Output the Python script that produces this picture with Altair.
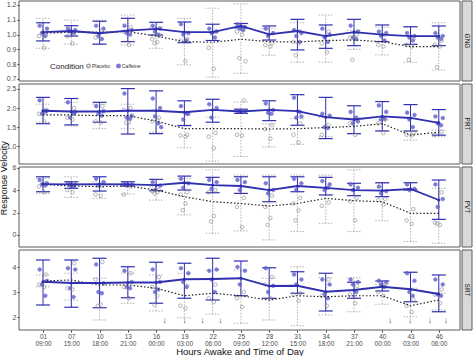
import json
import pandas as pd
import altair as alt

tests = ["GNG", "PRT", "PVT", "SRT"]
hours = ["01", "07", "10", "13", "16", "19", "22", "25", "28", "31", "34", "37", "40", "43", "46"]
clock = ["09:00", "15:00", "18:00", "21:00", "00:00", "03:00", "06:00", "09:00",
         "12:00", "15:00", "18:00", "21:00", "00:00", "03:00", "06:00"]

# ---------------- GNG ----------------
gng_caf_mean = [1.016, 1.024, 1.009, 1.026, 1.038, 1.016, 1.016, 1.058, 1.002, 1.024, 0.99, 1.016, 1.0, 0.99, 0.99]
gng_caf_lo = [0.957, 0.99, 0.935, 0.952, 0.997, 0.945, 0.96, 1.045, 0.963, 0.896, 0.907, 0.925, 0.952, 0.934, 0.925]
gng_caf_hi = [1.08, 1.06, 1.09, 1.11, 1.083, 1.085, 1.07, 1.075, 1.058, 1.103, 1.065, 1.103, 1.065, 1.053, 1.058]
gng_pla_mean = [1.009, 1.016, 1.016, 1.02, 0.99, 0.952, 0.948, 0.968, 0.952, 0.95, 0.96, 0.963, 0.952, 0.918, 0.918]
gng_pla_lo = [0.907, 0.935, 0.935, 0.93, 0.907, 0.795, 0.712, 0.738, 0.86, 0.813, 0.813, 0.9, 0.862, 0.813, 0.76]
gng_pla_hi = [1.11, 1.097, 1.097, 1.132, 1.05, 1.11, 1.178, 1.207, 1.04, 1.08, 1.132, 1.03, 1.05, 1.05, 1.08]
gng_caf_pts = [[1.06, 1.04, 1.01, 0.99], [1.04, 1.03, 1.02, 1.01], [1.06, 1.04, 0.99, 0.97], [1.06, 1.03, 1.01, 1.0],
               [1.06, 1.04, 1.02, 1.0], [1.07, 1.01, 1.0, 0.96], [1.04, 1.02, 1.01, 0.98], [1.07, 1.05, 1.04, 1.03],
               [1.04, 1.01, 0.99], [1.03, 1.01, 0.99, 0.95], [1.04, 1.0, 0.98, 0.95], [1.06, 1.02, 0.98, 0.97],
               [1.02, 1.01, 0.99, 0.96], [1.01, 0.99, 0.98, 0.96], [1.01, 0.99, 0.98, 0.97]]
gng_pla_pts = [[1.0, 0.99, 0.91], [1.0, 0.99, 0.94], [1.03, 0.98, 0.97], [1.05, 1.02, 0.93],
               [0.99, 0.97, 0.95, 0.94], [0.97, 0.96, 0.82], [1.02, 0.91, 0.77], [1.05, 1.02, 1.0, 0.84, 0.82],
               [0.94, 0.93, 0.92], [1.02, 0.95, 0.94, 0.86], [1.02, 0.94, 0.88], [1.0, 0.98, 0.97, 0.83],
               [1.0, 0.93, 0.92], [0.97, 0.93, 0.92, 0.83], [0.96, 0.93, 0.92, 0.78]]

# ---------------- PRT ----------------
prt_caf_mean = [1.93, 1.91, 1.91, 1.93, 1.93, 1.89, 1.95, 1.91, 1.95, 1.92, 1.76, 1.70, 1.78, 1.74, 1.61]
prt_caf_lo = [1.59, 1.56, 1.63, 1.32, 1.33, 1.54, 1.63, 1.86, 1.67, 1.55, 1.20, 1.33, 1.40, 1.40, 1.29]
prt_caf_hi = [2.28, 2.25, 2.15, 2.51, 2.45, 2.19, 2.23, 1.97, 2.19, 2.35, 2.28, 2.06, 2.17, 2.09, 1.96]
prt_pla_mean = [1.82, 1.82, 1.80, 1.80, 1.66, 1.46, 1.46, 1.46, 1.45, 1.46, 1.49, 1.52, 1.59, 1.29, 1.37]
prt_pla_lo = [1.63, 1.53, 1.46, 1.46, 1.37, 0.96, 0.61, 0.73, 0.98, 1.05, 1.25, 1.33, 1.40, 1.16, 1.25]
prt_pla_hi = [2.10, 2.15, 2.10, 2.10, 1.95, 1.56, 1.76, 2.16, 1.59, 1.72, 1.75, 1.74, 1.69, 1.38, 1.42]
prt_caf_pts = [[2.2, 1.93, 1.85, 1.9], [2.15, 1.9, 1.75, 1.85], [2.05, 1.92, 1.85, 1.8], [2.38, 1.8, 1.75, 1.72],
               [2.25, 2.0, 1.78, 1.6, 1.5], [2.05, 1.85, 1.7, 1.85], [2.1, 2.0, 1.75], [1.93, 1.9, 1.91],
               [2.12, 1.95, 1.88, 1.85], [2.27, 1.78, 1.75, 1.9], [1.85, 1.8, 1.5, 1.48], [1.9, 1.65, 1.6, 1.75],
               [2.07, 1.9, 1.7, 1.72], [1.88, 1.82, 1.7, 1.5], [1.78, 1.74, 1.6, 1.55]]
prt_pla_pts = [[1.95, 1.85, 1.65], [2.0, 1.75, 1.7], [2.05, 1.65, 1.62], [2.0, 1.95, 1.63, 1.62],
               [1.75, 1.65, 1.68], [1.3, 1.28, 1.25], [1.35, 1.25, 0.95], [2.2, 1.3, 1.28],
               [1.55, 1.45, 1.2], [1.6, 1.3, 1.1], [1.55, 1.3], [1.7, 1.6, 1.3],
               [1.7, 1.6, 1.35], [1.35, 1.3, 1.28], [1.38, 1.3]]

# ---------------- PVT ----------------
pvt_caf_mean = [4.53, 4.5, 4.53, 4.5, 4.44, 4.65, 4.44, 4.36, 4.0, 4.36, 4.2, 4.0, 3.94, 4.09, 3.11]
pvt_caf_lo = [3.85, 4.15, 3.91, 4.36, 3.94, 4.0, 3.76, 3.7, 2.96, 3.85, 3.56, 3.5, 3.41, 4.0, 1.39]
pvt_caf_hi = [5.18, 4.74, 5.18, 4.74, 4.95, 5.24, 5.13, 5.18, 5.18, 5.18, 5.13, 4.6, 4.65, 4.65, 4.89]
pvt_pla_mean = [4.5, 4.36, 4.3, 4.36, 4.0, 3.4, 2.96, 2.8, 2.58, 2.8, 3.26, 3.05, 2.96, 1.93, 1.93]
pvt_pla_lo = [3.7, 3.35, 3.26, 3.64, 3.1, 1.78, 0.15, 0.36, -0.44, 0.3, 1.04, 0.3, 1.27, -0.59, -0.74]
pvt_pla_hi = [5.04, 5.18, 4.74, 4.6, 4.3, 5.04, 5.8, 5.33, 5.33, 5.33, 5.33, 5.8, 4.6, 4.15, 4.15]
pvt_caf_pts = [[4.9, 4.6, 4.5, 4.4], [4.6, 4.5, 4.4, 4.3], [5.0, 4.7, 4.4], [4.6, 4.5, 4.4],
               [4.7, 4.4, 4.0], [5.0, 4.6, 4.2], [4.9, 4.7, 4.1], [4.9, 4.7, 4.0],
               [4.6, 4.0, 3.7], [5.0, 4.6, 4.0], [4.8, 4.5, 4.0, 4.2], [4.5, 4.2, 4.0],
               [4.3, 3.9, 3.7], [4.5, 4.1, 4.0], [4.5, 3.2, 2.5]]
pvt_pla_pts = [[4.6, 4.3, 3.8], [4.6, 4.0, 3.8], [4.4, 3.6, 3.5], [4.3, 3.6],
               [4.0, 3.9, 3.8, 3.7], [3.8, 3.6, 2.8, 2.2], [4.0, 3.8, 1.7, 1.2], [3.3, 2.5, 0.7],
               [3.5, 2.5, 1.5, 0.9], [3.3, 2.8, 2.2, 1.3], [2.9, 2.6], [3.3, 3.0, 1.3],
               [3.2, 3.1, 2.7], [2.3, 1.3, 1.0], [3.8, 1.1, 0.9, 1.0]]

# ---------------- SRT ----------------
srt_caf_mean = [3.41, 3.36, 3.36, 3.38, 3.38, 3.51, 3.52, 3.55, 3.24, 3.25, 3.01, 3.08, 3.21, 3.11, 2.92]
srt_caf_lo = [2.48, 2.39, 2.37, 2.77, 2.55, 2.75, 2.68, 2.85, 2.75, 2.95, 2.24, 2.75, 3.04, 2.61, 2.21]
srt_caf_hi = [4.28, 4.28, 4.35, 4.01, 4.19, 4.15, 4.35, 4.24, 3.97, 3.81, 3.75, 3.39, 3.44, 3.79, 3.68]
srt_pla_mean = [3.44, 3.48, 3.28, 3.28, 3.15, 2.85, 2.95, 2.85, 2.68, 2.85, 2.81, 2.85, 2.85, 2.45, 2.68]
srt_pla_lo = [3.21, 2.68, 1.88, 2.55, 2.24, 1.97, 2.11, 1.75, 1.88, 1.65, 2.08, 2.21, 2.51, 2.01, 2.28]
srt_pla_hi = [3.68, 3.75, 3.55, 3.75, 3.68, 3.75, 3.88, 3.88, 3.55, 4.01, 3.57, 3.57, 3.31, 3.15, 2.95]
srt_caf_pts = [[3.9, 3.45, 3.3, 2.85], [3.95, 3.9, 3.15, 2.8], [4.1, 3.35, 3.0, 2.95], [3.85, 3.4, 3.2, 3.15],
               [3.9, 3.4, 3.0, 3.1], [3.95, 3.75, 3.4, 3.2], [3.85, 3.9, 3.5, 3.0], [4.0, 3.85, 3.3],
               [3.95, 3.25, 3.0], [3.7, 3.5, 3.3], [3.5, 3.3, 2.9, 2.75], [3.5, 3.4, 3.3, 3.0],
               [3.45, 3.4, 3.3, 3.2], [3.75, 3.45, 3.0, 2.85], [3.5, 3.3, 2.9, 2.85]]
srt_pla_pts = [[3.7, 3.3, 3.2], [4.15, 3.15, 3.1], [4.2, 3.5, 2.5, 2.45], [3.75, 3.2, 2.75],
               [3.6, 3.2, 2.85, 2.5], [3.25, 2.45, 2.35], [3.3, 2.75, 2.6], [3.0, 2.75, 2.4],
               [3.6, 3.3, 2.75], [2.95, 2.9, 2.65], [3.5, 2.85, 2.45], [3.25, 2.9, 2.55],
               [3.3, 3.0, 2.85], [2.7, 2.45, 2.2], [3.1, 2.9, 2.55]]

# dosing markers (arrows) on the time axis, in time-point index units
arrow_x = [4.3, 5.0, 5.63, 6.27, 12.27, 12.98, 13.68, 14.25]

# ---------------- style constants ----------------
BLUE = "#3030b0"
PT_BLUE = "#5c5cca"
GREY = "#a8a8a8"
BORDER = "#5a5a5a"
JIT_CAF = [-0.12, 0.14, -0.04, 0.08, 0.18]
JIT_PLA = [0.1, -0.14, 0.04, -0.06, 0.16]

raw = {
    "GNG": (gng_caf_mean, gng_caf_lo, gng_caf_hi, gng_pla_mean, gng_pla_lo, gng_pla_hi, gng_caf_pts, gng_pla_pts),
    "PRT": (prt_caf_mean, prt_caf_lo, prt_caf_hi, prt_pla_mean, prt_pla_lo, prt_pla_hi, prt_caf_pts, prt_pla_pts),
    "PVT": (pvt_caf_mean, pvt_caf_lo, pvt_caf_hi, pvt_pla_mean, pvt_pla_lo, pvt_pla_hi, pvt_caf_pts, pvt_pla_pts),
    "SRT": (srt_caf_mean, srt_caf_lo, srt_caf_hi, srt_pla_mean, srt_pla_lo, srt_pla_hi, srt_caf_pts, srt_pla_pts),
}

mrows, prows = [], []
for t, (cm, cl, ch, pm, pl, ph, cp, pp) in raw.items():
    for i in range(15):
        mrows.append(dict(test=t, cond="Caffeine", i=i, mean=cm[i], lo=cl[i], hi=ch[i]))
        mrows.append(dict(test=t, cond="Placebo", i=i, mean=pm[i], lo=pl[i], hi=ph[i]))
        for k, v in enumerate(cp[i]):
            prows.append(dict(test=t, cond="Caffeine", i=i, jx=i + JIT_CAF[k], v=v))
        for k, v in enumerate(pp[i]):
            prows.append(dict(test=t, cond="Placebo", i=i, jx=i + JIT_PLA[k], v=v))
means = pd.DataFrame(mrows)
pts = pd.DataFrame(prows)

label_pairs = [[h, c] for h, c in zip(hours, clock)]
XDOM = [-0.85, 14.75]

settings = {
    "GNG": dict(domain=[0.686, 1.227], ticks=[0.7, 0.8, 0.9, 1.0, 1.1, 1.2], fmt=".1f"),
    "PRT": dict(domain=[0.535, 2.63], ticks=[1.0, 1.5, 2.0, 2.5], fmt=".1f"),
    "PVT": dict(domain=[-1.07, 6.05], ticks=[0, 2, 4, 6], fmt="d"),
    "SRT": dict(domain=[1.48, 4.68], ticks=[2, 3, 4], fmt="d"),
}

PW, PH = 441, 80
SW = 10  # strip width
GAP = 2


def panel(test, show_x, show_legend):
    s = settings[test]
    m = means[means.test == test]
    p = pts[pts.test == test]
    xaxis = alt.Axis(values=list(range(15)), labelExpr=f"{json.dumps(label_pairs)}[datum.value]",
                     title="Hours Awake and Time of Day", labelOverlap=False, labelFlush=False,
                     labelFontSize=6.5, labelLineHeight=7, titleFontSize=9.5, titleFontWeight="normal",
                     titleColor="#111", titlePadding=0, domain=False) if show_x else None
    xsc = alt.Scale(domain=XDOM, range=[0, PW], nice=False, zero=False)
    X = alt.X("i:Q", scale=xsc, axis=xaxis)
    ysc = alt.Scale(domain=s["domain"], nice=False, zero=False)
    yax = alt.Axis(values=s["ticks"], format=s["fmt"], title=None, domain=False)

    mp = alt.Chart(m).transform_filter(alt.datum.cond == "Placebo")
    mc = alt.Chart(m).transform_filter(alt.datum.cond == "Caffeine")

    pla_bar = mp.mark_rule(color=GREY, strokeDash=[1.5, 1.5], strokeWidth=0.9).encode(
        x=X, y=alt.Y("lo:Q", scale=ysc, axis=yax), y2="hi:Q")
    pla_cap = mp.transform_fold(["lo", "hi"], as_=["end", "yv"]).mark_rule(
        color=GREY, strokeDash=[1.5, 1.5], strokeWidth=0.9, xOffset=-7, x2Offset=7).encode(
        x=X, x2="i:Q", y=alt.Y("yv:Q", scale=ysc, axis=yax))
    caf_bar = mc.mark_rule(color=BLUE, strokeWidth=1).encode(
        x=X, y=alt.Y("lo:Q", scale=ysc, axis=yax), y2="hi:Q")
    caf_cap = mc.transform_fold(["lo", "hi"], as_=["end", "yv"]).mark_rule(
        color=BLUE, strokeWidth=1.2, xOffset=-7, x2Offset=7).encode(
        x=X, x2="i:Q", y=alt.Y("yv:Q", scale=ysc, axis=yax))

    legend = alt.Legend(title="Condition", orient="none", legendX=31, legendY=62, direction="horizontal",
                        titleOrient="left", titleFontSize=8, titleFontWeight="normal", titleColor="#222",
                        labelFontSize=5, labelColor="#333", symbolSize=12, columnPadding=2,
                        labelOffset=1, titlePadding=2) if show_legend else None
    cdom = ["Placebo", "Caffeine"]
    points = alt.Chart(p).mark_point(size=13, strokeWidth=0.8, filled=False).encode(
        x=alt.X("jx:Q", scale=xsc, axis=xaxis),
        y=alt.Y("v:Q", scale=ysc, axis=yax),
        stroke=alt.Stroke("cond:N", scale=alt.Scale(domain=cdom, range=["#8c8c8c", PT_BLUE]), legend=legend),
        fill=alt.Fill("cond:N", scale=alt.Scale(domain=cdom, range=["transparent", PT_BLUE]), legend=legend),
        opacity=alt.value(0.8),
    )
    pla_line = mp.mark_line(color="#222", strokeDash=[1.5, 2], strokeWidth=1.2).encode(
        x=X, y=alt.Y("mean:Q", scale=ysc, axis=yax))
    caf_line = mc.mark_line(color=BLUE, strokeWidth=1.8).encode(
        x=X, y=alt.Y("mean:Q", scale=ysc, axis=yax))
    caf_dot = mc.mark_point(color=BLUE, filled=True, size=10, opacity=1).encode(
        x=X, y=alt.Y("mean:Q", scale=ysc, axis=yax))

    one = pd.DataFrame({"t": [test]})
    frame = alt.Chart(one).mark_rect(fill="white", fillOpacity=0, stroke=BORDER, strokeWidth=1).encode(
        x=alt.value(0), x2=alt.value(PW), y=alt.value(0), y2=alt.value(PH))
    strip_bg = alt.Chart(one).mark_rect(fill="#d9d9d9", stroke=BORDER, strokeWidth=1).encode(
        x=alt.value(PW + GAP), x2=alt.value(PW + GAP + SW), y=alt.value(0), y2=alt.value(PH))
    strip_tx = alt.Chart(one).mark_text(angle=90, fontSize=6.5, color="#1a1a1a").encode(
        x=alt.value(PW + GAP + SW / 2), y=alt.value(PH / 2), text="t:N")

    layers = [pla_bar, pla_cap, caf_bar, caf_cap, points, pla_line, caf_line, caf_dot]
    if show_x:
        adf = pd.DataFrame({"ax": arrow_x, "ay": [s["domain"][0] + 0.2] * len(arrow_x)})
        arrows = alt.Chart(adf).mark_text(text="↓", fontSize=8, baseline="bottom", color="#333").encode(
            x=alt.X("ax:Q", scale=xsc, axis=xaxis),
            y=alt.Y("ay:Q", scale=ysc, axis=yax))
        layers.append(arrows)
    layers += [frame, strip_bg, strip_tx]
    return alt.layer(*layers).properties(width=PW + GAP + SW, height=PH)


rows = [panel(t, show_x=(t == "SRT"), show_legend=(t == "GNG")) for t in tests]

chart = alt.vconcat(*rows, spacing=3, bounds="flush").properties(
    title=alt.TitleParams("Response Velocity", orient="left", anchor="middle", fontSize=9,
                          fontWeight="normal", color="#111", offset=-3),
    padding={"left": 0, "top": 0, "right": 0, "bottom": 0},
).resolve_scale(y="independent").configure(
    font="Liberation Sans"
).configure_view(
    stroke=None
).configure_axis(
    grid=False, labelFontSize=7, labelColor="#4d4d4d", tickColor="#333",
    tickSize=2, labelPadding=1, labelFont="Liberation Sans",
).configure_axisY(
    minExtent=11, maxExtent=11
)

chart.save("out.html", embed_options={"renderer": "svg", "actions": False})
